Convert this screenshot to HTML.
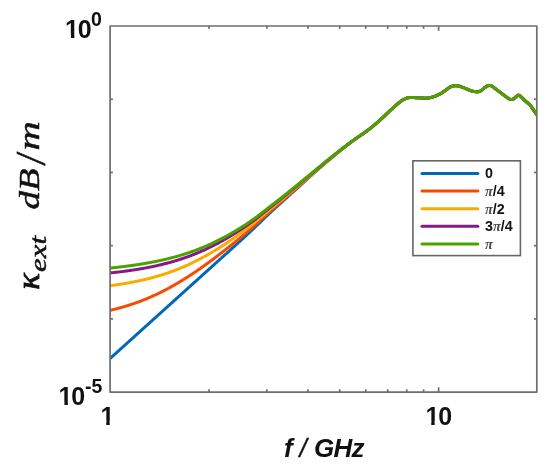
<!DOCTYPE html>
<html><head><meta charset="utf-8"><style>
html,body{margin:0;padding:0;background:#fff;}
svg{display:block;filter:blur(0.45px);}
.tl{font-family:"Liberation Sans",Arial,sans-serif;font-weight:bold;fill:#111;}
.lt{font-family:"Liberation Sans",Arial,sans-serif;font-weight:bold;font-size:14.3px;fill:#111;}
.pi{font-family:"Liberation Serif","DejaVu Serif",serif;font-weight:bold;font-style:italic;fill:#4a4a4a;}
.yl{font-family:"Liberation Serif","DejaVu Serif",serif;font-style:italic;fill:#111;stroke:#111;stroke-width:0.5px;}
.xl{font-family:"Liberation Sans",Arial,sans-serif;font-weight:bold;font-style:italic;fill:#111;}
</style></head><body>
<svg width="550" height="474" viewBox="0 0 550 474">
<rect width="550" height="474" fill="#fff"/>
<defs><clipPath id="ax"><rect x="110.1" y="26.0" width="426.69999999999993" height="366.1"/></clipPath></defs>
<g clip-path="url(#ax)" fill="none" stroke-width="3" stroke-linejoin="round" stroke-linecap="round">
<path d="M108.10 360.31 L108.60 359.85 L109.10 359.40 L109.60 358.95 L110.10 358.50 L110.60 358.05 L111.10 357.60 L111.60 357.15 L112.10 356.69 L112.60 356.24 L113.10 355.79 L113.60 355.34 L114.10 354.89 L114.60 354.44 L115.10 353.99 L115.60 353.54 L116.10 353.08 L116.60 352.63 L117.10 352.18 L117.60 351.73 L118.10 351.28 L118.60 350.83 L119.10 350.38 L119.60 349.92 L120.10 349.47 L120.60 349.02 L121.10 348.57 L121.60 348.12 L122.10 347.67 L122.60 347.22 L123.10 346.76 L123.60 346.31 L124.10 345.86 L124.60 345.41 L125.10 344.96 L125.60 344.51 L126.10 344.06 L126.60 343.61 L127.10 343.15 L127.60 342.70 L128.10 342.25 L128.60 341.80 L129.10 341.35 L129.60 340.90 L130.10 340.45 L130.60 339.99 L131.10 339.54 L131.60 339.09 L132.10 338.64 L132.60 338.19 L133.10 337.74 L133.60 337.29 L134.10 336.83 L134.60 336.38 L135.10 335.93 L135.60 335.48 L136.10 335.03 L136.60 334.58 L137.10 334.13 L137.60 333.68 L138.10 333.22 L138.60 332.77 L139.10 332.32 L139.60 331.87 L140.10 331.42 L140.60 330.97 L141.10 330.52 L141.60 330.06 L142.10 329.61 L142.60 329.16 L143.10 328.71 L143.60 328.26 L144.10 327.81 L144.60 327.36 L145.10 326.91 L145.60 326.45 L146.10 326.00 L146.60 325.55 L147.10 325.10 L147.60 324.65 L148.10 324.20 L148.60 323.75 L149.10 323.29 L149.60 322.84 L150.10 322.39 L150.60 321.94 L151.10 321.49 L151.60 321.04 L152.10 320.59 L152.60 320.13 L153.10 319.68 L153.60 319.23 L154.10 318.78 L154.60 318.33 L155.10 317.88 L155.60 317.43 L156.10 316.98 L156.60 316.52 L157.10 316.07 L157.60 315.62 L158.10 315.17 L158.60 314.72 L159.10 314.27 L159.60 313.82 L160.10 313.36 L160.60 312.91 L161.10 312.46 L161.60 312.01 L162.10 311.56 L162.60 311.11 L163.10 310.66 L163.60 310.20 L164.10 309.75 L164.60 309.30 L165.10 308.85 L165.60 308.40 L166.10 307.95 L166.60 307.50 L167.10 307.05 L167.60 306.59 L168.10 306.14 L168.60 305.69 L169.10 305.24 L169.60 304.79 L170.10 304.34 L170.60 303.89 L171.10 303.43 L171.60 302.98 L172.10 302.53 L172.60 302.08 L173.10 301.63 L173.60 301.18 L174.10 300.73 L174.60 300.28 L175.10 299.82 L175.60 299.37 L176.10 298.92 L176.60 298.47 L177.10 298.02 L177.60 297.57 L178.10 297.12 L178.60 296.66 L179.10 296.21 L179.60 295.76 L180.10 295.31 L180.60 294.86 L181.10 294.41 L181.60 293.96 L182.10 293.50 L182.60 293.05 L183.10 292.60 L183.60 292.15 L184.10 291.70 L184.60 291.25 L185.10 290.80 L185.60 290.35 L186.10 289.89 L186.60 289.44 L187.10 288.99 L187.60 288.54 L188.10 288.09 L188.60 287.64 L189.10 287.19 L189.60 286.73 L190.10 286.28 L190.60 285.83 L191.10 285.38 L191.60 284.93 L192.10 284.48 L192.60 284.03 L193.10 283.57 L193.60 283.12 L194.10 282.67 L194.60 282.22 L195.10 281.77 L195.60 281.32 L196.10 280.87 L196.60 280.42 L197.10 279.96 L197.60 279.51 L198.10 279.06 L198.60 278.61 L199.10 278.16 L199.60 277.71 L200.10 277.26 L200.60 276.80 L201.10 276.35 L201.60 275.90 L202.10 275.45 L202.60 275.00 L203.10 274.55 L203.60 274.10 L204.10 273.65 L204.60 273.19 L205.10 272.74 L205.60 272.29 L206.10 271.84 L206.60 271.39 L207.10 270.94 L207.60 270.49 L208.10 270.03 L208.60 269.58 L209.10 269.13 L209.60 268.68 L210.10 268.23 L210.60 267.78 L211.10 267.33 L211.60 266.87 L212.10 266.42 L212.60 265.97 L213.10 265.52 L213.60 265.07 L214.10 264.62 L214.60 264.17 L215.10 263.72 L215.60 263.26 L216.10 262.81 L216.60 262.36 L217.10 261.91 L217.60 261.46 L218.10 261.01 L218.60 260.56 L219.10 260.10 L219.60 259.65 L220.10 259.20 L220.60 258.75 L221.10 258.30 L221.60 257.85 L222.10 257.40 L222.60 256.94 L223.10 256.49 L223.60 256.04 L224.10 255.59 L224.60 255.14 L225.10 254.69 L225.60 254.24 L226.10 253.79 L226.60 253.33 L227.10 252.88 L227.60 252.43 L228.10 251.98 L228.60 251.53 L229.10 251.08 L229.60 250.63 L230.10 250.17 L230.60 249.72 L231.10 249.27 L231.60 248.82 L232.10 248.37 L232.60 247.91 L233.10 247.46 L233.60 247.01 L234.10 246.55 L234.60 246.10 L235.10 245.65 L235.60 245.19 L236.10 244.74 L236.60 244.28 L237.10 243.83 L237.60 243.37 L238.10 242.92 L238.60 242.46 L239.10 242.01 L239.60 241.55 L240.10 241.10 L240.60 240.64 L241.10 240.19 L241.60 239.73 L242.10 239.27 L242.60 238.82 L243.10 238.36 L243.60 237.90 L244.10 237.45 L244.60 236.99 L245.10 236.53 L245.60 236.07 L246.10 235.62 L246.60 235.16 L247.10 234.69 L247.60 234.23 L248.10 233.77 L248.60 233.30 L249.10 232.84 L249.60 232.37 L250.10 231.91 L250.60 231.44 L251.10 230.97 L251.60 230.50 L252.10 230.03 L252.60 229.56 L253.10 229.09 L253.60 228.62 L254.10 228.15 L254.60 227.67 L255.10 227.20 L255.60 226.73 L256.10 226.25 L256.60 225.77 L257.10 225.28 L257.60 224.79 L258.10 224.30 L258.60 223.81 L259.10 223.32 L259.60 222.83 L260.10 222.33 L260.60 221.84 L261.10 221.35 L261.60 220.86 L262.10 220.37 L262.60 219.88 L263.10 219.39 L263.60 218.91 L264.10 218.43 L264.60 217.95 L265.10 217.48 L265.60 217.00 L266.10 216.53 L266.60 216.06 L267.10 215.58 L267.60 215.11 L268.10 214.64 L268.60 214.17 L269.10 213.70 L269.60 213.23 L270.10 212.76 L270.60 212.29 L271.10 211.83 L271.60 211.36 L272.10 210.90 L272.60 210.43 L273.10 209.97 L273.60 209.52 L274.10 209.06 L274.60 208.60 L275.10 208.15 L275.60 207.70 L276.10 207.25 L276.60 206.80 L277.10 206.35 L277.60 205.90 L278.10 205.44 L278.60 204.99 L279.10 204.54 L279.60 204.09 L280.10 203.64 L280.60 203.19 L281.10 202.74 L281.60 202.28 L282.10 201.83 L282.60 201.38 L283.10 200.93 L283.60 200.48 L284.10 200.03 L284.60 199.58 L285.10 199.13 L285.60 198.67 L286.10 198.22 L286.60 197.77 L287.10 197.32 L287.60 196.87 L288.10 196.42 L288.60 195.97 L289.10 195.51 L289.60 195.06 L290.10 194.61 L290.60 194.16 L291.10 193.71 L291.60 193.26 L292.10 192.81 L292.60 192.36 L293.10 191.91 L293.60 191.46 L294.10 191.01 L294.60 190.56 L295.10 190.11 L295.60 189.66 L296.10 189.22 L296.60 188.77 L297.10 188.32 L297.60 187.87 L298.10 187.42 L298.60 186.98 L299.10 186.53 L299.60 186.08 L300.10 185.63 L300.60 185.17 L301.10 184.70 L301.60 184.23 L302.10 183.77 L302.60 183.31 L303.10 182.84 L303.60 182.38 L304.10 181.92 L304.60 181.46 L305.10 180.99 L305.60 180.53 L306.10 180.07 L306.60 179.62 L307.10 179.16 L307.60 178.70 L308.10 178.25 L308.60 177.79 L309.10 177.34 L309.60 176.89 L310.10 176.43 L310.60 175.98 L311.10 175.53 L311.60 175.08 L312.10 174.64 L312.60 174.19 L313.10 173.74 L313.60 173.30 L314.10 172.85 L314.60 172.41 L315.10 171.96 L315.60 171.52 L316.10 171.07 L316.60 170.63 L317.10 170.19 L317.60 169.75 L318.10 169.31 L318.60 168.87 L319.10 168.43 L319.60 167.99 L320.10 167.55 L320.60 167.11 L321.10 166.67 L321.60 166.24 L322.10 165.80 L322.60 165.37 L323.10 164.94 L323.60 164.51 L324.10 164.08 L324.60 163.65 L325.10 163.22 L325.60 162.79 L326.10 162.36 L326.60 161.94 L327.10 161.51 L327.60 161.09 L328.10 160.67 L328.60 160.24 L329.10 159.82 L329.60 159.40 L330.10 158.98 L330.60 158.56 L331.10 158.14 L331.60 157.72 L332.10 157.30 L332.60 156.89 L333.10 156.47 L333.60 156.05 L334.10 155.64 L334.60 155.22 L335.10 154.81 L335.60 154.39 L336.10 153.98 L336.60 153.57 L337.10 153.16 L337.60 152.75 L338.10 152.35 L338.60 151.94 L339.10 151.54 L339.60 151.13 L340.10 150.73 L340.60 150.33 L341.10 149.93 L341.60 149.53 L342.10 149.14 L342.60 148.74 L343.10 148.35 L343.60 147.95 L344.10 147.56 L344.60 147.17 L345.10 146.77 L345.60 146.38 L346.10 146.00 L346.60 145.61 L347.10 145.22 L347.60 144.84 L348.10 144.46 L348.60 144.08 L349.10 143.70 L349.60 143.33 L350.10 142.95 L350.60 142.58 L351.10 142.20 L351.60 141.83 L352.10 141.46 L352.60 141.09 L353.10 140.72 L353.60 140.36 L354.10 139.99 L354.60 139.63 L355.10 139.26 L355.60 138.90 L356.10 138.54 L356.60 138.19 L357.10 137.84 L357.60 137.50 L358.10 137.15 L358.60 136.81 L359.10 136.46 L359.60 136.12 L360.10 135.77 L360.60 135.43 L361.10 135.08 L361.60 134.73 L362.10 134.38 L362.60 134.02 L363.10 133.67 L363.60 133.32 L364.10 132.97 L364.60 132.62 L365.10 132.27 L365.60 131.92 L366.10 131.56 L366.60 131.20 L367.10 130.84 L367.60 130.47 L368.10 130.10 L368.60 129.72 L369.10 129.33 L369.60 128.93 L370.10 128.53 L370.60 128.12 L371.10 127.72 L371.60 127.31 L372.10 126.90 L372.60 126.49 L373.10 126.08 L373.60 125.66 L374.10 125.25 L374.60 124.83 L375.10 124.42 L375.60 124.00 L376.10 123.57 L376.60 123.15 L377.10 122.72 L377.60 122.29 L378.10 121.86 L378.60 121.43 L379.10 120.99 L379.60 120.55 L380.10 120.10 L380.60 119.65 L381.10 119.19 L381.60 118.73 L382.10 118.26 L382.60 117.79 L383.10 117.32 L383.60 116.84 L384.10 116.37 L384.60 115.89 L385.10 115.40 L385.60 114.92 L386.10 114.44 L386.60 113.96 L387.10 113.48 L387.60 113.00 L388.10 112.53 L388.60 112.05 L389.10 111.59 L389.60 111.12 L390.10 110.66 L390.60 110.20 L391.10 109.74 L391.60 109.29 L392.10 108.83 L392.60 108.37 L393.10 107.91 L393.60 107.46 L394.10 107.00 L394.60 106.55 L395.10 106.09 L395.60 105.64 L396.10 105.19 L396.60 104.74 L397.10 104.29 L397.60 103.86 L398.10 103.43 L398.60 103.03 L399.10 102.63 L399.60 102.25 L400.10 101.87 L400.60 101.50 L401.10 101.13 L401.60 100.77 L402.10 100.43 L402.60 100.11 L403.10 99.81 L403.60 99.53 L404.10 99.27 L404.60 99.03 L405.10 98.79 L405.60 98.58 L406.10 98.39 L406.60 98.21 L407.10 98.06 L407.60 97.94 L408.10 97.84 L408.60 97.75 L409.10 97.68 L409.60 97.63 L410.10 97.59 L410.60 97.56 L411.10 97.55 L411.60 97.54 L412.10 97.54 L412.60 97.55 L413.10 97.57 L413.60 97.59 L414.10 97.61 L414.60 97.64 L415.10 97.67 L415.60 97.70 L416.10 97.73 L416.60 97.77 L417.10 97.81 L417.60 97.84 L418.10 97.88 L418.60 97.91 L419.10 97.94 L419.60 97.98 L420.10 98.01 L420.60 98.04 L421.10 98.06 L421.60 98.09 L422.10 98.11 L422.60 98.13 L423.10 98.15 L423.60 98.16 L424.10 98.17 L424.60 98.18 L425.10 98.18 L425.60 98.17 L426.10 98.16 L426.60 98.14 L427.10 98.11 L427.60 98.07 L428.10 98.01 L428.60 97.95 L429.10 97.87 L429.60 97.79 L430.10 97.69 L430.60 97.57 L431.10 97.45 L431.60 97.32 L432.10 97.18 L432.60 97.04 L433.10 96.88 L433.60 96.72 L434.10 96.55 L434.60 96.37 L435.10 96.19 L435.60 96.00 L436.10 95.81 L436.60 95.60 L437.10 95.39 L437.60 95.17 L438.10 94.94 L438.60 94.70 L439.10 94.45 L439.60 94.19 L440.10 93.92 L440.60 93.64 L441.10 93.35 L441.60 93.04 L442.10 92.73 L442.60 92.41 L443.10 92.08 L443.60 91.74 L444.10 91.39 L444.60 91.03 L445.10 90.67 L445.60 90.29 L446.10 89.92 L446.60 89.54 L447.10 89.17 L447.60 88.80 L448.10 88.44 L448.60 88.10 L449.10 87.77 L449.60 87.46 L450.10 87.18 L450.60 86.93 L451.10 86.70 L451.60 86.49 L452.10 86.31 L452.60 86.16 L453.10 86.03 L453.60 85.92 L454.10 85.84 L454.60 85.78 L455.10 85.75 L455.60 85.73 L456.10 85.74 L456.60 85.77 L457.10 85.81 L457.60 85.88 L458.10 85.96 L458.60 86.07 L459.10 86.18 L459.60 86.31 L460.10 86.45 L460.60 86.61 L461.10 86.77 L461.60 86.94 L462.10 87.13 L462.60 87.32 L463.10 87.51 L463.60 87.71 L464.10 87.92 L464.60 88.13 L465.10 88.35 L465.60 88.57 L466.10 88.78 L466.60 89.00 L467.10 89.22 L467.60 89.44 L468.10 89.65 L468.60 89.86 L469.10 90.06 L469.60 90.25 L470.10 90.44 L470.60 90.61 L471.10 90.77 L471.60 90.92 L472.10 91.06 L472.60 91.19 L473.10 91.30 L473.60 91.41 L474.10 91.50 L474.60 91.58 L475.10 91.65 L475.60 91.71 L476.10 91.75 L476.60 91.79 L477.10 91.81 L477.60 91.80 L478.10 91.77 L478.60 91.69 L479.10 91.58 L479.60 91.41 L480.10 91.20 L480.60 90.92 L481.10 90.59 L481.60 90.23 L482.10 89.84 L482.60 89.42 L483.10 89.00 L483.60 88.57 L484.10 88.16 L484.60 87.76 L485.10 87.38 L485.60 87.03 L486.10 86.70 L486.60 86.40 L487.10 86.13 L487.60 85.90 L488.10 85.70 L488.60 85.55 L489.10 85.45 L489.60 85.41 L490.10 85.45 L490.60 85.58 L491.10 85.77 L491.60 86.03 L492.10 86.33 L492.60 86.67 L493.10 87.04 L493.60 87.43 L494.10 87.82 L494.60 88.20 L495.10 88.58 L495.60 88.96 L496.10 89.33 L496.60 89.71 L497.10 90.08 L497.60 90.45 L498.10 90.82 L498.60 91.19 L499.10 91.57 L499.60 91.94 L500.10 92.32 L500.60 92.69 L501.10 93.07 L501.60 93.45 L502.10 93.82 L502.60 94.20 L503.10 94.58 L503.60 94.95 L504.10 95.33 L504.60 95.70 L505.10 96.08 L505.60 96.45 L506.10 96.83 L506.60 97.20 L507.10 97.57 L507.60 97.92 L508.10 98.26 L508.60 98.57 L509.10 98.85 L509.60 99.09 L510.10 99.30 L510.60 99.45 L511.10 99.55 L511.60 99.58 L512.10 99.55 L512.60 99.42 L513.10 99.21 L513.60 98.91 L514.10 98.53 L514.60 98.09 L515.10 97.62 L515.60 97.14 L516.10 96.66 L516.60 96.21 L517.10 95.81 L517.60 95.50 L518.10 95.31 L518.60 95.26 L519.10 95.37 L519.60 95.61 L520.10 95.96 L520.60 96.38 L521.10 96.85 L521.60 97.34 L522.10 97.85 L522.60 98.36 L523.10 98.87 L523.60 99.37 L524.10 99.86 L524.60 100.33 L525.10 100.79 L525.60 101.23 L526.10 101.66 L526.60 102.09 L527.10 102.51 L527.60 102.93 L528.10 103.35 L528.60 103.78 L529.10 104.23 L529.60 104.70 L530.10 105.22 L530.60 105.78 L531.10 106.41 L531.60 107.10 L532.10 107.84 L532.60 108.62 L533.10 109.40 L533.60 110.18 L534.10 110.94 L534.60 111.66 L535.10 112.35 L535.60 113.04 L536.10 113.73 L536.60 114.45 L537.10 115.18 L537.60 115.95 L538.10 116.73 L538.60 117.53 L539.10 118.34 L539.60 119.16" stroke="#0068bb"/>
<path d="M108.10 310.81 L108.60 310.70 L109.10 310.58 L109.60 310.47 L110.10 310.35 L110.60 310.23 L111.10 310.11 L111.60 310.00 L112.10 309.88 L112.60 309.75 L113.10 309.63 L113.60 309.51 L114.10 309.38 L114.60 309.26 L115.10 309.13 L115.60 309.00 L116.10 308.88 L116.60 308.75 L117.10 308.62 L117.60 308.48 L118.10 308.35 L118.60 308.22 L119.10 308.08 L119.60 307.95 L120.10 307.81 L120.60 307.67 L121.10 307.53 L121.60 307.39 L122.10 307.25 L122.60 307.10 L123.10 306.96 L123.60 306.81 L124.10 306.67 L124.60 306.52 L125.10 306.37 L125.60 306.22 L126.10 306.07 L126.60 305.91 L127.10 305.76 L127.60 305.61 L128.10 305.45 L128.60 305.29 L129.10 305.13 L129.60 304.97 L130.10 304.81 L130.60 304.65 L131.10 304.48 L131.60 304.32 L132.10 304.15 L132.60 303.98 L133.10 303.81 L133.60 303.64 L134.10 303.47 L134.60 303.30 L135.10 303.12 L135.60 302.95 L136.10 302.77 L136.60 302.59 L137.10 302.41 L137.60 302.23 L138.10 302.05 L138.60 301.86 L139.10 301.68 L139.60 301.49 L140.10 301.30 L140.60 301.11 L141.10 300.92 L141.60 300.73 L142.10 300.54 L142.60 300.34 L143.10 300.15 L143.60 299.95 L144.10 299.75 L144.60 299.55 L145.10 299.35 L145.60 299.14 L146.10 298.94 L146.60 298.73 L147.10 298.53 L147.60 298.32 L148.10 298.11 L148.60 297.89 L149.10 297.68 L149.60 297.47 L150.10 297.25 L150.60 297.03 L151.10 296.81 L151.60 296.59 L152.10 296.37 L152.60 296.15 L153.10 295.92 L153.60 295.70 L154.10 295.47 L154.60 295.24 L155.10 295.01 L155.60 294.78 L156.10 294.54 L156.60 294.31 L157.10 294.07 L157.60 293.83 L158.10 293.60 L158.60 293.35 L159.10 293.11 L159.60 292.87 L160.10 292.62 L160.60 292.38 L161.10 292.13 L161.60 291.88 L162.10 291.63 L162.60 291.38 L163.10 291.12 L163.60 290.87 L164.10 290.61 L164.60 290.35 L165.10 290.09 L165.60 289.83 L166.10 289.57 L166.60 289.31 L167.10 289.04 L167.60 288.78 L168.10 288.51 L168.60 288.24 L169.10 287.97 L169.60 287.69 L170.10 287.42 L170.60 287.15 L171.10 286.87 L171.60 286.59 L172.10 286.31 L172.60 286.03 L173.10 285.75 L173.60 285.47 L174.10 285.18 L174.60 284.90 L175.10 284.61 L175.60 284.32 L176.10 284.03 L176.60 283.74 L177.10 283.44 L177.60 283.15 L178.10 282.85 L178.60 282.56 L179.10 282.26 L179.60 281.96 L180.10 281.66 L180.60 281.36 L181.10 281.05 L181.60 280.75 L182.10 280.44 L182.60 280.13 L183.10 279.83 L183.60 279.52 L184.10 279.20 L184.60 278.89 L185.10 278.58 L185.60 278.26 L186.10 277.95 L186.60 277.63 L187.10 277.31 L187.60 276.99 L188.10 276.67 L188.60 276.35 L189.10 276.02 L189.60 275.70 L190.10 275.37 L190.60 275.04 L191.10 274.72 L191.60 274.39 L192.10 274.06 L192.60 273.72 L193.10 273.39 L193.60 273.06 L194.10 272.72 L194.60 272.38 L195.10 272.05 L195.60 271.71 L196.10 271.37 L196.60 271.03 L197.10 270.68 L197.60 270.34 L198.10 270.00 L198.60 269.65 L199.10 269.30 L199.60 268.96 L200.10 268.61 L200.60 268.26 L201.10 267.91 L201.60 267.56 L202.10 267.20 L202.60 266.85 L203.10 266.49 L203.60 266.14 L204.10 265.78 L204.60 265.42 L205.10 265.06 L205.60 264.70 L206.10 264.34 L206.60 263.98 L207.10 263.62 L207.60 263.26 L208.10 262.89 L208.60 262.53 L209.10 262.16 L209.60 261.79 L210.10 261.42 L210.60 261.05 L211.10 260.68 L211.60 260.31 L212.10 259.94 L212.60 259.57 L213.10 259.20 L213.60 258.82 L214.10 258.45 L214.60 258.07 L215.10 257.69 L215.60 257.32 L216.10 256.94 L216.60 256.56 L217.10 256.18 L217.60 255.80 L218.10 255.41 L218.60 255.03 L219.10 254.65 L219.60 254.26 L220.10 253.88 L220.60 253.49 L221.10 253.11 L221.60 252.72 L222.10 252.33 L222.60 251.94 L223.10 251.55 L223.60 251.16 L224.10 250.77 L224.60 250.38 L225.10 249.99 L225.60 249.60 L226.10 249.20 L226.60 248.81 L227.10 248.42 L227.60 248.02 L228.10 247.62 L228.60 247.23 L229.10 246.83 L229.60 246.43 L230.10 246.03 L230.60 245.63 L231.10 245.23 L231.60 244.83 L232.10 244.43 L232.60 244.03 L233.10 243.62 L233.60 243.22 L234.10 242.81 L234.60 242.41 L235.10 242.00 L235.60 241.59 L236.10 241.19 L236.60 240.78 L237.10 240.37 L237.60 239.96 L238.10 239.54 L238.60 239.13 L239.10 238.72 L239.60 238.31 L240.10 237.89 L240.60 237.48 L241.10 237.06 L241.60 236.65 L242.10 236.23 L242.60 235.81 L243.10 235.40 L243.60 234.98 L244.10 234.56 L244.60 234.14 L245.10 233.72 L245.60 233.30 L246.10 232.88 L246.60 232.45 L247.10 232.03 L247.60 231.60 L248.10 231.17 L248.60 230.74 L249.10 230.31 L249.60 229.88 L250.10 229.44 L250.60 229.01 L251.10 228.57 L251.60 228.13 L252.10 227.70 L252.60 227.26 L253.10 226.82 L253.60 226.38 L254.10 225.94 L254.60 225.50 L255.10 225.05 L255.60 224.61 L256.10 224.16 L256.60 223.70 L257.10 223.25 L257.60 222.79 L258.10 222.33 L258.60 221.86 L259.10 221.40 L259.60 220.93 L260.10 220.47 L260.60 220.00 L261.10 219.54 L261.60 219.07 L262.10 218.60 L262.60 218.14 L263.10 217.68 L263.60 217.22 L264.10 216.76 L264.60 216.31 L265.10 215.86 L265.60 215.41 L266.10 214.95 L266.60 214.50 L267.10 214.05 L267.60 213.60 L268.10 213.15 L268.60 212.70 L269.10 212.25 L269.60 211.80 L270.10 211.35 L270.60 210.90 L271.10 210.45 L271.60 210.01 L272.10 209.56 L272.60 209.12 L273.10 208.67 L273.60 208.23 L274.10 207.79 L274.60 207.36 L275.10 206.92 L275.60 206.48 L276.10 206.05 L276.60 205.61 L277.10 205.18 L277.60 204.74 L278.10 204.31 L278.60 203.87 L279.10 203.43 L279.60 203.00 L280.10 202.56 L280.60 202.12 L281.10 201.68 L281.60 201.25 L282.10 200.81 L282.60 200.37 L283.10 199.93 L283.60 199.50 L284.10 199.06 L284.60 198.62 L285.10 198.18 L285.60 197.74 L286.10 197.30 L286.60 196.86 L287.10 196.42 L287.60 195.98 L288.10 195.54 L288.60 195.10 L289.10 194.66 L289.60 194.22 L290.10 193.78 L290.60 193.34 L291.10 192.90 L291.60 192.46 L292.10 192.02 L292.60 191.58 L293.10 191.15 L293.60 190.71 L294.10 190.27 L294.60 189.83 L295.10 189.39 L295.60 188.95 L296.10 188.51 L296.60 188.07 L297.10 187.63 L297.60 187.19 L298.10 186.76 L298.60 186.32 L299.10 185.88 L299.60 185.44 L300.10 185.00 L300.60 184.54 L301.10 184.09 L301.60 183.64 L302.10 183.18 L302.60 182.73 L303.10 182.28 L303.60 181.83 L304.10 181.38 L304.60 180.93 L305.10 180.48 L305.60 180.03 L306.10 179.58 L306.60 179.13 L307.10 178.68 L307.60 178.23 L308.10 177.79 L308.60 177.34 L309.10 176.90 L309.60 176.45 L310.10 176.01 L310.60 175.57 L311.10 175.13 L311.60 174.69 L312.10 174.25 L312.60 173.81 L313.10 173.37 L313.60 172.93 L314.10 172.49 L314.60 172.06 L315.10 171.62 L315.60 171.18 L316.10 170.75 L316.60 170.31 L317.10 169.88 L317.60 169.44 L318.10 169.01 L318.60 168.57 L319.10 168.14 L319.60 167.71 L320.10 167.27 L320.60 166.84 L321.10 166.41 L321.60 165.98 L322.10 165.55 L322.60 165.12 L323.10 164.70 L323.60 164.27 L324.10 163.84 L324.60 163.42 L325.10 163.00 L325.60 162.57 L326.10 162.15 L326.60 161.73 L327.10 161.31 L327.60 160.89 L328.10 160.47 L328.60 160.05 L329.10 159.64 L329.60 159.22 L330.10 158.80 L330.60 158.39 L331.10 157.97 L331.60 157.56 L332.10 157.14 L332.60 156.73 L333.10 156.32 L333.60 155.91 L334.10 155.49 L334.60 155.08 L335.10 154.67 L335.60 154.26 L336.10 153.85 L336.60 153.44 L337.10 153.04 L337.60 152.63 L338.10 152.23 L338.60 151.83 L339.10 151.43 L339.60 151.03 L340.10 150.63 L340.60 150.23 L341.10 149.83 L341.60 149.44 L342.10 149.04 L342.60 148.65 L343.10 148.25 L343.60 147.86 L344.10 147.47 L344.60 147.08 L345.10 146.69 L345.60 146.30 L346.10 145.92 L346.60 145.53 L347.10 145.15 L347.60 144.77 L348.10 144.39 L348.60 144.01 L349.10 143.64 L349.60 143.26 L350.10 142.89 L350.60 142.52 L351.10 142.15 L351.60 141.78 L352.10 141.41 L352.60 141.04 L353.10 140.67 L353.60 140.31 L354.10 139.94 L354.60 139.58 L355.10 139.22 L355.60 138.86 L356.10 138.50 L356.60 138.15 L357.10 137.81 L357.60 137.46 L358.10 137.12 L358.60 136.77 L359.10 136.43 L359.60 136.08 L360.10 135.74 L360.60 135.40 L361.10 135.05 L361.60 134.70 L362.10 134.35 L362.60 133.99 L363.10 133.64 L363.60 133.29 L364.10 132.94 L364.60 132.59 L365.10 132.24 L365.60 131.89 L366.10 131.53 L366.60 131.18 L367.10 130.81 L367.60 130.45 L368.10 130.07 L368.60 129.69 L369.10 129.31 L369.60 128.91 L370.10 128.51 L370.60 128.10 L371.10 127.69 L371.60 127.29 L372.10 126.88 L372.60 126.47 L373.10 126.06 L373.60 125.64 L374.10 125.23 L374.60 124.81 L375.10 124.40 L375.60 123.98 L376.10 123.55 L376.60 123.13 L377.10 122.70 L377.60 122.27 L378.10 121.84 L378.60 121.41 L379.10 120.97 L379.60 120.53 L380.10 120.08 L380.60 119.63 L381.10 119.17 L381.60 118.71 L382.10 118.25 L382.60 117.78 L383.10 117.30 L383.60 116.83 L384.10 116.35 L384.60 115.87 L385.10 115.39 L385.60 114.91 L386.10 114.43 L386.60 113.94 L387.10 113.46 L387.60 112.99 L388.10 112.51 L388.60 112.04 L389.10 111.57 L389.60 111.11 L390.10 110.65 L390.60 110.19 L391.10 109.73 L391.60 109.27 L392.10 108.82 L392.60 108.36 L393.10 107.90 L393.60 107.45 L394.10 106.99 L394.60 106.54 L395.10 106.08 L395.60 105.63 L396.10 105.18 L396.60 104.73 L397.10 104.28 L397.60 103.84 L398.10 103.42 L398.60 103.02 L399.10 102.62 L399.60 102.24 L400.10 101.86 L400.60 101.49 L401.10 101.12 L401.60 100.76 L402.10 100.42 L402.60 100.10 L403.10 99.80 L403.60 99.52 L404.10 99.26 L404.60 99.02 L405.10 98.79 L405.60 98.57 L406.10 98.38 L406.60 98.20 L407.10 98.05 L407.60 97.93 L408.10 97.83 L408.60 97.74 L409.10 97.67 L409.60 97.62 L410.10 97.58 L410.60 97.55 L411.10 97.54 L411.60 97.53 L412.10 97.54 L412.60 97.54 L413.10 97.56 L413.60 97.58 L414.10 97.60 L414.60 97.63 L415.10 97.66 L415.60 97.69 L416.10 97.72 L416.60 97.76 L417.10 97.80 L417.60 97.83 L418.10 97.87 L418.60 97.90 L419.10 97.93 L419.60 97.97 L420.10 98.00 L420.60 98.03 L421.10 98.05 L421.60 98.08 L422.10 98.10 L422.60 98.12 L423.10 98.14 L423.60 98.15 L424.10 98.16 L424.60 98.17 L425.10 98.17 L425.60 98.16 L426.10 98.15 L426.60 98.13 L427.10 98.10 L427.60 98.06 L428.10 98.00 L428.60 97.94 L429.10 97.86 L429.60 97.78 L430.10 97.68 L430.60 97.57 L431.10 97.44 L431.60 97.31 L432.10 97.17 L432.60 97.03 L433.10 96.87 L433.60 96.71 L434.10 96.54 L434.60 96.36 L435.10 96.18 L435.60 95.99 L436.10 95.80 L436.60 95.59 L437.10 95.38 L437.60 95.16 L438.10 94.93 L438.60 94.69 L439.10 94.44 L439.60 94.18 L440.10 93.91 L440.60 93.63 L441.10 93.34 L441.60 93.04 L442.10 92.72 L442.60 92.40 L443.10 92.07 L443.60 91.73 L444.10 91.38 L444.60 91.02 L445.10 90.66 L445.60 90.29 L446.10 89.91 L446.60 89.53 L447.10 89.16 L447.60 88.79 L448.10 88.43 L448.60 88.09 L449.10 87.76 L449.60 87.46 L450.10 87.18 L450.60 86.92 L451.10 86.69 L451.60 86.49 L452.10 86.31 L452.60 86.15 L453.10 86.02 L453.60 85.92 L454.10 85.84 L454.60 85.78 L455.10 85.74 L455.60 85.72 L456.10 85.73 L456.60 85.76 L457.10 85.81 L457.60 85.87 L458.10 85.96 L458.60 86.06 L459.10 86.17 L459.60 86.30 L460.10 86.45 L460.60 86.60 L461.10 86.76 L461.60 86.94 L462.10 87.12 L462.60 87.31 L463.10 87.51 L463.60 87.71 L464.10 87.91 L464.60 88.13 L465.10 88.34 L465.60 88.56 L466.10 88.78 L466.60 88.99 L467.10 89.21 L467.60 89.43 L468.10 89.64 L468.60 89.85 L469.10 90.05 L469.60 90.24 L470.10 90.43 L470.60 90.60 L471.10 90.77 L471.60 90.92 L472.10 91.05 L472.60 91.18 L473.10 91.30 L473.60 91.40 L474.10 91.49 L474.60 91.57 L475.10 91.64 L475.60 91.70 L476.10 91.74 L476.60 91.78 L477.10 91.80 L477.60 91.79 L478.10 91.76 L478.60 91.69 L479.10 91.57 L479.60 91.41 L480.10 91.19 L480.60 90.91 L481.10 90.59 L481.60 90.22 L482.10 89.83 L482.60 89.41 L483.10 88.99 L483.60 88.57 L484.10 88.15 L484.60 87.75 L485.10 87.38 L485.60 87.02 L486.10 86.69 L486.60 86.39 L487.10 86.12 L487.60 85.89 L488.10 85.69 L488.60 85.54 L489.10 85.44 L489.60 85.40 L490.10 85.45 L490.60 85.57 L491.10 85.76 L491.60 86.02 L492.10 86.32 L492.60 86.67 L493.10 87.04 L493.60 87.42 L494.10 87.81 L494.60 88.19 L495.10 88.57 L495.60 88.95 L496.10 89.32 L496.60 89.70 L497.10 90.07 L497.60 90.44 L498.10 90.81 L498.60 91.18 L499.10 91.56 L499.60 91.93 L500.10 92.31 L500.60 92.69 L501.10 93.06 L501.60 93.44 L502.10 93.82 L502.60 94.19 L503.10 94.57 L503.60 94.94 L504.10 95.32 L504.60 95.69 L505.10 96.07 L505.60 96.44 L506.10 96.82 L506.60 97.19 L507.10 97.56 L507.60 97.91 L508.10 98.25 L508.60 98.56 L509.10 98.84 L509.60 99.08 L510.10 99.29 L510.60 99.44 L511.10 99.54 L511.60 99.57 L512.10 99.53 L512.60 99.41 L513.10 99.20 L513.60 98.89 L514.10 98.52 L514.60 98.08 L515.10 97.61 L515.60 97.13 L516.10 96.65 L516.60 96.20 L517.10 95.80 L517.60 95.49 L518.10 95.30 L518.60 95.25 L519.10 95.36 L519.60 95.60 L520.10 95.95 L520.60 96.37 L521.10 96.84 L521.60 97.33 L522.10 97.84 L522.60 98.35 L523.10 98.85 L523.60 99.36 L524.10 99.85 L524.60 100.32 L525.10 100.77 L525.60 101.22 L526.10 101.65 L526.60 102.08 L527.10 102.50 L527.60 102.92 L528.10 103.34 L528.60 103.77 L529.10 104.21 L529.60 104.69 L530.10 105.20 L530.60 105.77 L531.10 106.39 L531.60 107.09 L532.10 107.83 L532.60 108.60 L533.10 109.39 L533.60 110.17 L534.10 110.92 L534.60 111.64 L535.10 112.34 L535.60 113.02 L536.10 113.72 L536.60 114.43 L537.10 115.16 L537.60 115.93 L538.10 116.71 L538.60 117.51 L539.10 118.32 L539.60 119.14" stroke="#f84a00"/>
<path d="M108.10 285.97 L108.60 285.91 L109.10 285.84 L109.60 285.78 L110.10 285.71 L110.60 285.65 L111.10 285.58 L111.60 285.51 L112.10 285.45 L112.60 285.38 L113.10 285.31 L113.60 285.24 L114.10 285.17 L114.60 285.10 L115.10 285.03 L115.60 284.96 L116.10 284.89 L116.60 284.81 L117.10 284.74 L117.60 284.66 L118.10 284.59 L118.60 284.51 L119.10 284.44 L119.60 284.36 L120.10 284.29 L120.60 284.21 L121.10 284.13 L121.60 284.05 L122.10 283.97 L122.60 283.89 L123.10 283.81 L123.60 283.73 L124.10 283.64 L124.60 283.56 L125.10 283.48 L125.60 283.39 L126.10 283.31 L126.60 283.22 L127.10 283.13 L127.60 283.05 L128.10 282.96 L128.60 282.87 L129.10 282.78 L129.60 282.69 L130.10 282.60 L130.60 282.50 L131.10 282.41 L131.60 282.32 L132.10 282.22 L132.60 282.13 L133.10 282.03 L133.60 281.93 L134.10 281.84 L134.60 281.74 L135.10 281.64 L135.60 281.54 L136.10 281.43 L136.60 281.33 L137.10 281.23 L137.60 281.13 L138.10 281.02 L138.60 280.91 L139.10 280.81 L139.60 280.70 L140.10 280.59 L140.60 280.48 L141.10 280.37 L141.60 280.26 L142.10 280.15 L142.60 280.03 L143.10 279.92 L143.60 279.80 L144.10 279.69 L144.60 279.57 L145.10 279.45 L145.60 279.33 L146.10 279.21 L146.60 279.09 L147.10 278.97 L147.60 278.85 L148.10 278.72 L148.60 278.60 L149.10 278.47 L149.60 278.34 L150.10 278.21 L150.60 278.08 L151.10 277.95 L151.60 277.82 L152.10 277.69 L152.60 277.55 L153.10 277.42 L153.60 277.28 L154.10 277.14 L154.60 277.01 L155.10 276.87 L155.60 276.72 L156.10 276.58 L156.60 276.44 L157.10 276.29 L157.60 276.15 L158.10 276.00 L158.60 275.85 L159.10 275.70 L159.60 275.55 L160.10 275.40 L160.60 275.25 L161.10 275.10 L161.60 274.94 L162.10 274.78 L162.60 274.63 L163.10 274.47 L163.60 274.31 L164.10 274.14 L164.60 273.98 L165.10 273.82 L165.60 273.65 L166.10 273.48 L166.60 273.32 L167.10 273.15 L167.60 272.98 L168.10 272.80 L168.60 272.63 L169.10 272.46 L169.60 272.28 L170.10 272.10 L170.60 271.92 L171.10 271.74 L171.60 271.56 L172.10 271.38 L172.60 271.20 L173.10 271.01 L173.60 270.82 L174.10 270.64 L174.60 270.45 L175.10 270.26 L175.60 270.06 L176.10 269.87 L176.60 269.67 L177.10 269.48 L177.60 269.28 L178.10 269.08 L178.60 268.88 L179.10 268.68 L179.60 268.47 L180.10 268.27 L180.60 268.06 L181.10 267.86 L181.60 267.65 L182.10 267.44 L182.60 267.22 L183.10 267.01 L183.60 266.80 L184.10 266.58 L184.60 266.36 L185.10 266.14 L185.60 265.92 L186.10 265.70 L186.60 265.48 L187.10 265.25 L187.60 265.03 L188.10 264.80 L188.60 264.57 L189.10 264.34 L189.60 264.11 L190.10 263.87 L190.60 263.64 L191.10 263.40 L191.60 263.16 L192.10 262.92 L192.60 262.68 L193.10 262.44 L193.60 262.20 L194.10 261.95 L194.60 261.70 L195.10 261.46 L195.60 261.21 L196.10 260.96 L196.60 260.70 L197.10 260.45 L197.60 260.19 L198.10 259.94 L198.60 259.68 L199.10 259.42 L199.60 259.16 L200.10 258.90 L200.60 258.63 L201.10 258.37 L201.60 258.10 L202.10 257.83 L202.60 257.56 L203.10 257.29 L203.60 257.02 L204.10 256.75 L204.60 256.47 L205.10 256.19 L205.60 255.92 L206.10 255.64 L206.60 255.36 L207.10 255.07 L207.60 254.79 L208.10 254.50 L208.60 254.22 L209.10 253.93 L209.60 253.64 L210.10 253.35 L210.60 253.06 L211.10 252.77 L211.60 252.47 L212.10 252.18 L212.60 251.88 L213.10 251.58 L213.60 251.28 L214.10 250.98 L214.60 250.68 L215.10 250.37 L215.60 250.07 L216.10 249.76 L216.60 249.46 L217.10 249.15 L217.60 248.84 L218.10 248.52 L218.60 248.21 L219.10 247.90 L219.60 247.58 L220.10 247.27 L220.60 246.95 L221.10 246.63 L221.60 246.31 L222.10 245.99 L222.60 245.67 L223.10 245.34 L223.60 245.02 L224.10 244.69 L224.60 244.36 L225.10 244.03 L225.60 243.70 L226.10 243.37 L226.60 243.04 L227.10 242.71 L227.60 242.37 L228.10 242.04 L228.60 241.70 L229.10 241.36 L229.60 241.02 L230.10 240.68 L230.60 240.34 L231.10 240.00 L231.60 239.66 L232.10 239.31 L232.60 238.96 L233.10 238.62 L233.60 238.27 L234.10 237.92 L234.60 237.57 L235.10 237.21 L235.60 236.86 L236.10 236.50 L236.60 236.15 L237.10 235.79 L237.60 235.43 L238.10 235.07 L238.60 234.71 L239.10 234.35 L239.60 233.99 L240.10 233.62 L240.60 233.26 L241.10 232.89 L241.60 232.52 L242.10 232.15 L242.60 231.78 L243.10 231.41 L243.60 231.04 L244.10 230.67 L244.60 230.29 L245.10 229.92 L245.60 229.54 L246.10 229.16 L246.60 228.78 L247.10 228.40 L247.60 228.02 L248.10 227.63 L248.60 227.24 L249.10 226.85 L249.60 226.46 L250.10 226.07 L250.60 225.68 L251.10 225.28 L251.60 224.89 L252.10 224.49 L252.60 224.09 L253.10 223.69 L253.60 223.29 L254.10 222.89 L254.60 222.48 L255.10 222.08 L255.60 221.67 L256.10 221.26 L256.60 220.84 L257.10 220.42 L257.60 220.00 L258.10 219.58 L258.60 219.15 L259.10 218.72 L259.60 218.29 L260.10 217.86 L260.60 217.43 L261.10 217.00 L261.60 216.56 L262.10 216.13 L262.60 215.70 L263.10 215.27 L263.60 214.84 L264.10 214.42 L264.60 213.99 L265.10 213.57 L265.60 213.15 L266.10 212.73 L266.60 212.31 L267.10 211.88 L267.60 211.46 L268.10 211.04 L268.60 210.61 L269.10 210.19 L269.60 209.77 L270.10 209.34 L270.60 208.92 L271.10 208.50 L271.60 208.08 L272.10 207.66 L272.60 207.24 L273.10 206.82 L273.60 206.40 L274.10 205.98 L274.60 205.57 L275.10 205.16 L275.60 204.74 L276.10 204.33 L276.60 203.92 L277.10 203.50 L277.60 203.09 L278.10 202.67 L278.60 202.26 L279.10 201.84 L279.60 201.42 L280.10 201.01 L280.60 200.59 L281.10 200.17 L281.60 199.75 L282.10 199.33 L282.60 198.91 L283.10 198.49 L283.60 198.07 L284.10 197.65 L284.60 197.23 L285.10 196.81 L285.60 196.39 L286.10 195.97 L286.60 195.55 L287.10 195.12 L287.60 194.70 L288.10 194.28 L288.60 193.86 L289.10 193.43 L289.60 193.01 L290.10 192.58 L290.60 192.16 L291.10 191.73 L291.60 191.31 L292.10 190.88 L292.60 190.46 L293.10 190.03 L293.60 189.61 L294.10 189.18 L294.60 188.76 L295.10 188.33 L295.60 187.91 L296.10 187.48 L296.60 187.05 L297.10 186.63 L297.60 186.20 L298.10 185.78 L298.60 185.35 L299.10 184.93 L299.60 184.50 L300.10 184.07 L300.60 183.63 L301.10 183.20 L301.60 182.76 L302.10 182.33 L302.60 181.89 L303.10 181.46 L303.60 181.02 L304.10 180.59 L304.60 180.15 L305.10 179.71 L305.60 179.28 L306.10 178.84 L306.60 178.41 L307.10 177.98 L307.60 177.55 L308.10 177.11 L308.60 176.68 L309.10 176.25 L309.60 175.82 L310.10 175.39 L310.60 174.96 L311.10 174.53 L311.60 174.10 L312.10 173.68 L312.60 173.25 L313.10 172.82 L313.60 172.39 L314.10 171.97 L314.60 171.54 L315.10 171.11 L315.60 170.69 L316.10 170.26 L316.60 169.84 L317.10 169.41 L317.60 168.99 L318.10 168.56 L318.60 168.14 L319.10 167.71 L319.60 167.29 L320.10 166.87 L320.60 166.44 L321.10 166.02 L321.60 165.60 L322.10 165.18 L322.60 164.76 L323.10 164.34 L323.60 163.92 L324.10 163.50 L324.60 163.09 L325.10 162.67 L325.60 162.25 L326.10 161.84 L326.60 161.43 L327.10 161.01 L327.60 160.60 L328.10 160.19 L328.60 159.78 L329.10 159.36 L329.60 158.95 L330.10 158.54 L330.60 158.13 L331.10 157.73 L331.60 157.32 L332.10 156.91 L332.60 156.50 L333.10 156.09 L333.60 155.69 L334.10 155.28 L334.60 154.87 L335.10 154.47 L335.60 154.06 L336.10 153.66 L336.60 153.25 L337.10 152.85 L337.60 152.45 L338.10 152.05 L338.60 151.65 L339.10 151.26 L339.60 150.86 L340.10 150.47 L340.60 150.07 L341.10 149.68 L341.60 149.29 L342.10 148.90 L342.60 148.51 L343.10 148.12 L343.60 147.73 L344.10 147.34 L344.60 146.96 L345.10 146.57 L345.60 146.19 L346.10 145.80 L346.60 145.42 L347.10 145.04 L347.60 144.67 L348.10 144.29 L348.60 143.92 L349.10 143.54 L349.60 143.17 L350.10 142.80 L350.60 142.43 L351.10 142.06 L351.60 141.69 L352.10 141.33 L352.60 140.96 L353.10 140.60 L353.60 140.24 L354.10 139.87 L354.60 139.51 L355.10 139.15 L355.60 138.80 L356.10 138.44 L356.60 138.10 L357.10 137.75 L357.60 137.41 L358.10 137.06 L358.60 136.72 L359.10 136.38 L359.60 136.04 L360.10 135.70 L360.60 135.35 L361.10 135.01 L361.60 134.66 L362.10 134.30 L362.60 133.95 L363.10 133.60 L363.60 133.25 L364.10 132.90 L364.60 132.55 L365.10 132.20 L365.60 131.85 L366.10 131.49 L366.60 131.14 L367.10 130.77 L367.60 130.41 L368.10 130.03 L368.60 129.66 L369.10 129.27 L369.60 128.87 L370.10 128.47 L370.60 128.07 L371.10 127.66 L371.60 127.25 L372.10 126.84 L372.60 126.43 L373.10 126.02 L373.60 125.61 L374.10 125.20 L374.60 124.78 L375.10 124.36 L375.60 123.94 L376.10 123.52 L376.60 123.10 L377.10 122.67 L377.60 122.24 L378.10 121.81 L378.60 121.38 L379.10 120.94 L379.60 120.50 L380.10 120.05 L380.60 119.60 L381.10 119.15 L381.60 118.69 L382.10 118.22 L382.60 117.75 L383.10 117.28 L383.60 116.80 L384.10 116.32 L384.60 115.85 L385.10 115.36 L385.60 114.88 L386.10 114.40 L386.60 113.92 L387.10 113.44 L387.60 112.96 L388.10 112.49 L388.60 112.02 L389.10 111.55 L389.60 111.09 L390.10 110.63 L390.60 110.17 L391.10 109.71 L391.60 109.25 L392.10 108.80 L392.60 108.34 L393.10 107.88 L393.60 107.43 L394.10 106.97 L394.60 106.52 L395.10 106.06 L395.60 105.61 L396.10 105.16 L396.60 104.71 L397.10 104.26 L397.60 103.83 L398.10 103.41 L398.60 103.00 L399.10 102.61 L399.60 102.22 L400.10 101.84 L400.60 101.47 L401.10 101.11 L401.60 100.74 L402.10 100.40 L402.60 100.08 L403.10 99.79 L403.60 99.51 L404.10 99.25 L404.60 99.00 L405.10 98.77 L405.60 98.56 L406.10 98.36 L406.60 98.19 L407.10 98.04 L407.60 97.91 L408.10 97.81 L408.60 97.73 L409.10 97.66 L409.60 97.61 L410.10 97.57 L410.60 97.54 L411.10 97.53 L411.60 97.52 L412.10 97.52 L412.60 97.53 L413.10 97.54 L413.60 97.56 L414.10 97.59 L414.60 97.61 L415.10 97.64 L415.60 97.68 L416.10 97.71 L416.60 97.75 L417.10 97.78 L417.60 97.82 L418.10 97.85 L418.60 97.89 L419.10 97.92 L419.60 97.95 L420.10 97.98 L420.60 98.01 L421.10 98.04 L421.60 98.06 L422.10 98.09 L422.60 98.11 L423.10 98.12 L423.60 98.14 L424.10 98.15 L424.60 98.15 L425.10 98.15 L425.60 98.15 L426.10 98.13 L426.60 98.11 L427.10 98.08 L427.60 98.04 L428.10 97.99 L428.60 97.93 L429.10 97.85 L429.60 97.76 L430.10 97.66 L430.60 97.55 L431.10 97.43 L431.60 97.30 L432.10 97.16 L432.60 97.01 L433.10 96.86 L433.60 96.69 L434.10 96.52 L434.60 96.35 L435.10 96.17 L435.60 95.98 L436.10 95.78 L436.60 95.58 L437.10 95.37 L437.60 95.15 L438.10 94.92 L438.60 94.68 L439.10 94.43 L439.60 94.17 L440.10 93.90 L440.60 93.62 L441.10 93.33 L441.60 93.02 L442.10 92.71 L442.60 92.39 L443.10 92.06 L443.60 91.72 L444.10 91.37 L444.60 91.01 L445.10 90.65 L445.60 90.27 L446.10 89.90 L446.60 89.52 L447.10 89.15 L447.60 88.78 L448.10 88.42 L448.60 88.08 L449.10 87.75 L449.60 87.45 L450.10 87.16 L450.60 86.91 L451.10 86.68 L451.60 86.47 L452.10 86.30 L452.60 86.14 L453.10 86.01 L453.60 85.91 L454.10 85.82 L454.60 85.77 L455.10 85.73 L455.60 85.71 L456.10 85.72 L456.60 85.75 L457.10 85.80 L457.60 85.86 L458.10 85.95 L458.60 86.05 L459.10 86.16 L459.60 86.29 L460.10 86.43 L460.60 86.59 L461.10 86.75 L461.60 86.93 L462.10 87.11 L462.60 87.30 L463.10 87.49 L463.60 87.70 L464.10 87.90 L464.60 88.11 L465.10 88.33 L465.60 88.55 L466.10 88.76 L466.60 88.98 L467.10 89.20 L467.60 89.42 L468.10 89.63 L468.60 89.84 L469.10 90.04 L469.60 90.23 L470.10 90.42 L470.60 90.59 L471.10 90.75 L471.60 90.90 L472.10 91.04 L472.60 91.17 L473.10 91.28 L473.60 91.38 L474.10 91.48 L474.60 91.56 L475.10 91.63 L475.60 91.68 L476.10 91.73 L476.60 91.77 L477.10 91.79 L477.60 91.78 L478.10 91.75 L478.60 91.67 L479.10 91.56 L479.60 91.39 L480.10 91.17 L480.60 90.90 L481.10 90.57 L481.60 90.21 L482.10 89.81 L482.60 89.40 L483.10 88.98 L483.60 88.55 L484.10 88.14 L484.60 87.74 L485.10 87.36 L485.60 87.01 L486.10 86.68 L486.60 86.38 L487.10 86.11 L487.60 85.88 L488.10 85.68 L488.60 85.53 L489.10 85.43 L489.60 85.39 L490.10 85.43 L490.60 85.56 L491.10 85.75 L491.60 86.01 L492.10 86.31 L492.60 86.66 L493.10 87.03 L493.60 87.41 L494.10 87.80 L494.60 88.18 L495.10 88.56 L495.60 88.94 L496.10 89.31 L496.60 89.68 L497.10 90.06 L497.60 90.43 L498.10 90.80 L498.60 91.17 L499.10 91.54 L499.60 91.92 L500.10 92.30 L500.60 92.67 L501.10 93.05 L501.60 93.42 L502.10 93.80 L502.60 94.18 L503.10 94.55 L503.60 94.93 L504.10 95.30 L504.60 95.68 L505.10 96.05 L505.60 96.43 L506.10 96.80 L506.60 97.18 L507.10 97.54 L507.60 97.90 L508.10 98.23 L508.60 98.54 L509.10 98.82 L509.60 99.07 L510.10 99.27 L510.60 99.42 L511.10 99.52 L511.60 99.56 L512.10 99.52 L512.60 99.39 L513.10 99.18 L513.60 98.88 L514.10 98.50 L514.60 98.07 L515.10 97.60 L515.60 97.11 L516.10 96.63 L516.60 96.18 L517.10 95.79 L517.60 95.47 L518.10 95.28 L518.60 95.23 L519.10 95.34 L519.60 95.59 L520.10 95.93 L520.60 96.36 L521.10 96.83 L521.60 97.32 L522.10 97.82 L522.60 98.33 L523.10 98.84 L523.60 99.34 L524.10 99.83 L524.60 100.30 L525.10 100.76 L525.60 101.20 L526.10 101.63 L526.60 102.06 L527.10 102.48 L527.60 102.90 L528.10 103.32 L528.60 103.75 L529.10 104.19 L529.60 104.67 L530.10 105.18 L530.60 105.74 L531.10 106.37 L531.60 107.06 L532.10 107.81 L532.60 108.58 L533.10 109.36 L533.60 110.14 L534.10 110.89 L534.60 111.61 L535.10 112.31 L535.60 113.00 L536.10 113.69 L536.60 114.40 L537.10 115.13 L537.60 115.90 L538.10 116.68 L538.60 117.48 L539.10 118.29 L539.60 119.11" stroke="#fbaa00"/>
<path d="M108.10 273.17 L108.60 273.12 L109.10 273.07 L109.60 273.02 L110.10 272.96 L110.60 272.91 L111.10 272.85 L111.60 272.80 L112.10 272.74 L112.60 272.69 L113.10 272.63 L113.60 272.58 L114.10 272.52 L114.60 272.47 L115.10 272.41 L115.60 272.35 L116.10 272.29 L116.60 272.23 L117.10 272.18 L117.60 272.12 L118.10 272.06 L118.60 272.00 L119.10 271.94 L119.60 271.87 L120.10 271.81 L120.60 271.75 L121.10 271.69 L121.60 271.63 L122.10 271.56 L122.60 271.50 L123.10 271.44 L123.60 271.37 L124.10 271.31 L124.60 271.24 L125.10 271.17 L125.60 271.11 L126.10 271.04 L126.60 270.97 L127.10 270.90 L127.60 270.83 L128.10 270.77 L128.60 270.70 L129.10 270.63 L129.60 270.55 L130.10 270.48 L130.60 270.41 L131.10 270.34 L131.60 270.26 L132.10 270.19 L132.60 270.12 L133.10 270.04 L133.60 269.97 L134.10 269.89 L134.60 269.81 L135.10 269.74 L135.60 269.66 L136.10 269.58 L136.60 269.50 L137.10 269.42 L137.60 269.34 L138.10 269.26 L138.60 269.18 L139.10 269.09 L139.60 269.01 L140.10 268.93 L140.60 268.84 L141.10 268.76 L141.60 268.67 L142.10 268.58 L142.60 268.50 L143.10 268.41 L143.60 268.32 L144.10 268.23 L144.60 268.14 L145.10 268.05 L145.60 267.95 L146.10 267.86 L146.60 267.77 L147.10 267.67 L147.60 267.58 L148.10 267.48 L148.60 267.39 L149.10 267.29 L149.60 267.19 L150.10 267.09 L150.60 266.99 L151.10 266.89 L151.60 266.79 L152.10 266.69 L152.60 266.58 L153.10 266.48 L153.60 266.37 L154.10 266.27 L154.60 266.16 L155.10 266.05 L155.60 265.95 L156.10 265.84 L156.60 265.73 L157.10 265.61 L157.60 265.50 L158.10 265.39 L158.60 265.27 L159.10 265.16 L159.60 265.04 L160.10 264.93 L160.60 264.81 L161.10 264.69 L161.60 264.57 L162.10 264.45 L162.60 264.33 L163.10 264.20 L163.60 264.08 L164.10 263.95 L164.60 263.83 L165.10 263.70 L165.60 263.57 L166.10 263.44 L166.60 263.31 L167.10 263.18 L167.60 263.05 L168.10 262.91 L168.60 262.78 L169.10 262.64 L169.60 262.51 L170.10 262.37 L170.60 262.23 L171.10 262.09 L171.60 261.95 L172.10 261.81 L172.60 261.66 L173.10 261.52 L173.60 261.37 L174.10 261.22 L174.60 261.08 L175.10 260.93 L175.60 260.78 L176.10 260.62 L176.60 260.47 L177.10 260.32 L177.60 260.16 L178.10 260.00 L178.60 259.85 L179.10 259.69 L179.60 259.53 L180.10 259.36 L180.60 259.20 L181.10 259.04 L181.60 258.87 L182.10 258.71 L182.60 258.54 L183.10 258.37 L183.60 258.20 L184.10 258.03 L184.60 257.85 L185.10 257.68 L185.60 257.50 L186.10 257.32 L186.60 257.15 L187.10 256.97 L187.60 256.79 L188.10 256.60 L188.60 256.42 L189.10 256.23 L189.60 256.05 L190.10 255.86 L190.60 255.67 L191.10 255.48 L191.60 255.29 L192.10 255.09 L192.60 254.90 L193.10 254.70 L193.60 254.51 L194.10 254.31 L194.60 254.11 L195.10 253.91 L195.60 253.70 L196.10 253.50 L196.60 253.29 L197.10 253.09 L197.60 252.88 L198.10 252.67 L198.60 252.46 L199.10 252.24 L199.60 252.03 L200.10 251.81 L200.60 251.60 L201.10 251.38 L201.60 251.16 L202.10 250.94 L202.60 250.71 L203.10 250.49 L203.60 250.27 L204.10 250.04 L204.60 249.81 L205.10 249.58 L205.60 249.35 L206.10 249.12 L206.60 248.88 L207.10 248.65 L207.60 248.41 L208.10 248.17 L208.60 247.93 L209.10 247.69 L209.60 247.45 L210.10 247.20 L210.60 246.96 L211.10 246.71 L211.60 246.46 L212.10 246.21 L212.60 245.96 L213.10 245.71 L213.60 245.45 L214.10 245.20 L214.60 244.94 L215.10 244.68 L215.60 244.42 L216.10 244.16 L216.60 243.90 L217.10 243.64 L217.60 243.37 L218.10 243.10 L218.60 242.83 L219.10 242.56 L219.60 242.29 L220.10 242.02 L220.60 241.75 L221.10 241.47 L221.60 241.20 L222.10 240.92 L222.60 240.64 L223.10 240.36 L223.60 240.07 L224.10 239.79 L224.60 239.51 L225.10 239.22 L225.60 238.93 L226.10 238.64 L226.60 238.35 L227.10 238.06 L227.60 237.77 L228.10 237.47 L228.60 237.18 L229.10 236.88 L229.60 236.58 L230.10 236.28 L230.60 235.98 L231.10 235.68 L231.60 235.38 L232.10 235.07 L232.60 234.76 L233.10 234.46 L233.60 234.15 L234.10 233.83 L234.60 233.52 L235.10 233.21 L235.60 232.89 L236.10 232.57 L236.60 232.26 L237.10 231.94 L237.60 231.61 L238.10 231.29 L238.60 230.97 L239.10 230.64 L239.60 230.32 L240.10 229.99 L240.60 229.66 L241.10 229.33 L241.60 229.00 L242.10 228.66 L242.60 228.33 L243.10 227.99 L243.60 227.66 L244.10 227.32 L244.60 226.98 L245.10 226.64 L245.60 226.29 L246.10 225.95 L246.60 225.60 L247.10 225.25 L247.60 224.90 L248.10 224.55 L248.60 224.20 L249.10 223.84 L249.60 223.48 L250.10 223.12 L250.60 222.76 L251.10 222.40 L251.60 222.03 L252.10 221.67 L252.60 221.30 L253.10 220.93 L253.60 220.56 L254.10 220.19 L254.60 219.82 L255.10 219.44 L255.60 219.06 L256.10 218.68 L256.60 218.29 L257.10 217.91 L257.60 217.51 L258.10 217.12 L258.60 216.72 L259.10 216.32 L259.60 215.92 L260.10 215.52 L260.60 215.12 L261.10 214.71 L261.60 214.31 L262.10 213.90 L262.60 213.50 L263.10 213.10 L263.60 212.69 L264.10 212.29 L264.60 211.90 L265.10 211.50 L265.60 211.10 L266.10 210.71 L266.60 210.31 L267.10 209.91 L267.60 209.51 L268.10 209.11 L268.60 208.71 L269.10 208.31 L269.60 207.91 L270.10 207.51 L270.60 207.11 L271.10 206.71 L271.60 206.31 L272.10 205.91 L272.60 205.51 L273.10 205.11 L273.60 204.71 L274.10 204.31 L274.60 203.92 L275.10 203.53 L275.60 203.13 L276.10 202.74 L276.60 202.34 L277.10 201.95 L277.60 201.55 L278.10 201.15 L278.60 200.75 L279.10 200.36 L279.60 199.96 L280.10 199.56 L280.60 199.16 L281.10 198.76 L281.60 198.36 L282.10 197.95 L282.60 197.55 L283.10 197.15 L283.60 196.74 L284.10 196.34 L284.60 195.93 L285.10 195.53 L285.60 195.12 L286.10 194.72 L286.60 194.31 L287.10 193.90 L287.60 193.49 L288.10 193.08 L288.60 192.68 L289.10 192.27 L289.60 191.86 L290.10 191.45 L290.60 191.03 L291.10 190.62 L291.60 190.21 L292.10 189.80 L292.60 189.39 L293.10 188.98 L293.60 188.56 L294.10 188.15 L294.60 187.74 L295.10 187.33 L295.60 186.91 L296.10 186.50 L296.60 186.09 L297.10 185.67 L297.60 185.26 L298.10 184.84 L298.60 184.43 L299.10 184.01 L299.60 183.60 L300.10 183.18 L300.60 182.76 L301.10 182.34 L301.60 181.92 L302.10 181.50 L302.60 181.09 L303.10 180.66 L303.60 180.24 L304.10 179.82 L304.60 179.40 L305.10 178.98 L305.60 178.56 L306.10 178.14 L306.60 177.72 L307.10 177.30 L307.60 176.88 L308.10 176.46 L308.60 176.04 L309.10 175.63 L309.60 175.21 L310.10 174.79 L310.60 174.37 L311.10 173.96 L311.60 173.54 L312.10 173.12 L312.60 172.70 L313.10 172.29 L313.60 171.87 L314.10 171.46 L314.60 171.04 L315.10 170.62 L315.60 170.21 L316.10 169.79 L316.60 169.38 L317.10 168.96 L317.60 168.55 L318.10 168.13 L318.60 167.71 L319.10 167.30 L319.60 166.88 L320.10 166.47 L320.60 166.05 L321.10 165.64 L321.60 165.23 L322.10 164.81 L322.60 164.40 L323.10 163.99 L323.60 163.58 L324.10 163.17 L324.60 162.76 L325.10 162.35 L325.60 161.94 L326.10 161.53 L326.60 161.13 L327.10 160.72 L327.60 160.31 L328.10 159.91 L328.60 159.50 L329.10 159.10 L329.60 158.69 L330.10 158.29 L330.60 157.88 L331.10 157.48 L331.60 157.08 L332.10 156.68 L332.60 156.27 L333.10 155.87 L333.60 155.47 L334.10 155.07 L334.60 154.67 L335.10 154.26 L335.60 153.86 L336.10 153.46 L336.60 153.07 L337.10 152.67 L337.60 152.27 L338.10 151.88 L338.60 151.49 L339.10 151.09 L339.60 150.70 L340.10 150.31 L340.60 149.92 L341.10 149.53 L341.60 149.14 L342.10 148.76 L342.60 148.37 L343.10 147.98 L343.60 147.60 L344.10 147.22 L344.60 146.83 L345.10 146.45 L345.60 146.07 L346.10 145.69 L346.60 145.31 L347.10 144.94 L347.60 144.56 L348.10 144.19 L348.60 143.82 L349.10 143.45 L349.60 143.08 L350.10 142.71 L350.60 142.34 L351.10 141.98 L351.60 141.61 L352.10 141.25 L352.60 140.89 L353.10 140.53 L353.60 140.17 L354.10 139.81 L354.60 139.45 L355.10 139.09 L355.60 138.73 L356.10 138.38 L356.60 138.04 L357.10 137.69 L357.60 137.35 L358.10 137.01 L358.60 136.67 L359.10 136.33 L359.60 135.99 L360.10 135.65 L360.60 135.31 L361.10 134.96 L361.60 134.62 L362.10 134.26 L362.60 133.91 L363.10 133.56 L363.60 133.21 L364.10 132.86 L364.60 132.51 L365.10 132.16 L365.60 131.81 L366.10 131.46 L366.60 131.10 L367.10 130.74 L367.60 130.37 L368.10 130.00 L368.60 129.62 L369.10 129.23 L369.60 128.84 L370.10 128.44 L370.60 128.03 L371.10 127.62 L371.60 127.22 L372.10 126.81 L372.60 126.40 L373.10 125.99 L373.60 125.58 L374.10 125.16 L374.60 124.75 L375.10 124.33 L375.60 123.91 L376.10 123.49 L376.60 123.07 L377.10 122.64 L377.60 122.21 L378.10 121.78 L378.60 121.35 L379.10 120.91 L379.60 120.47 L380.10 120.03 L380.60 119.58 L381.10 119.12 L381.60 118.66 L382.10 118.19 L382.60 117.73 L383.10 117.25 L383.60 116.78 L384.10 116.30 L384.60 115.82 L385.10 115.34 L385.60 114.86 L386.10 114.38 L386.60 113.90 L387.10 113.42 L387.60 112.94 L388.10 112.47 L388.60 112.00 L389.10 111.53 L389.60 111.06 L390.10 110.60 L390.60 110.15 L391.10 109.69 L391.60 109.23 L392.10 108.78 L392.60 108.32 L393.10 107.86 L393.60 107.41 L394.10 106.95 L394.60 106.50 L395.10 106.05 L395.60 105.59 L396.10 105.14 L396.60 104.69 L397.10 104.25 L397.60 103.81 L398.10 103.39 L398.60 102.98 L399.10 102.59 L399.60 102.20 L400.10 101.83 L400.60 101.46 L401.10 101.09 L401.60 100.73 L402.10 100.39 L402.60 100.07 L403.10 99.77 L403.60 99.49 L404.10 99.23 L404.60 98.99 L405.10 98.76 L405.60 98.54 L406.10 98.35 L406.60 98.17 L407.10 98.02 L407.60 97.90 L408.10 97.80 L408.60 97.71 L409.10 97.64 L409.60 97.59 L410.10 97.55 L410.60 97.53 L411.10 97.51 L411.60 97.50 L412.10 97.51 L412.60 97.52 L413.10 97.53 L413.60 97.55 L414.10 97.57 L414.60 97.60 L415.10 97.63 L415.60 97.66 L416.10 97.70 L416.60 97.73 L417.10 97.77 L417.60 97.80 L418.10 97.84 L418.60 97.87 L419.10 97.91 L419.60 97.94 L420.10 97.97 L420.60 98.00 L421.10 98.02 L421.60 98.05 L422.10 98.07 L422.60 98.09 L423.10 98.11 L423.60 98.12 L424.10 98.13 L424.60 98.14 L425.10 98.14 L425.60 98.13 L426.10 98.12 L426.60 98.10 L427.10 98.07 L427.60 98.03 L428.10 97.97 L428.60 97.91 L429.10 97.83 L429.60 97.75 L430.10 97.65 L430.60 97.54 L431.10 97.41 L431.60 97.28 L432.10 97.14 L432.60 97.00 L433.10 96.84 L433.60 96.68 L434.10 96.51 L434.60 96.33 L435.10 96.15 L435.60 95.96 L436.10 95.77 L436.60 95.57 L437.10 95.35 L437.60 95.13 L438.10 94.90 L438.60 94.67 L439.10 94.42 L439.60 94.16 L440.10 93.89 L440.60 93.60 L441.10 93.31 L441.60 93.01 L442.10 92.70 L442.60 92.38 L443.10 92.05 L443.60 91.71 L444.10 91.36 L444.60 91.00 L445.10 90.63 L445.60 90.26 L446.10 89.89 L446.60 89.51 L447.10 89.14 L447.60 88.77 L448.10 88.41 L448.60 88.07 L449.10 87.74 L449.60 87.44 L450.10 87.15 L450.60 86.90 L451.10 86.67 L451.60 86.46 L452.10 86.29 L452.60 86.13 L453.10 86.00 L453.60 85.90 L454.10 85.81 L454.60 85.75 L455.10 85.72 L455.60 85.70 L456.10 85.71 L456.60 85.74 L457.10 85.79 L457.60 85.85 L458.10 85.94 L458.60 86.04 L459.10 86.15 L459.60 86.28 L460.10 86.42 L460.60 86.58 L461.10 86.74 L461.60 86.91 L462.10 87.10 L462.60 87.29 L463.10 87.48 L463.60 87.68 L464.10 87.89 L464.60 88.10 L465.10 88.32 L465.60 88.53 L466.10 88.75 L466.60 88.97 L467.10 89.19 L467.60 89.40 L468.10 89.62 L468.60 89.82 L469.10 90.03 L469.60 90.22 L470.10 90.40 L470.60 90.58 L471.10 90.74 L471.60 90.89 L472.10 91.03 L472.60 91.16 L473.10 91.27 L473.60 91.37 L474.10 91.46 L474.60 91.54 L475.10 91.61 L475.60 91.67 L476.10 91.72 L476.60 91.75 L477.10 91.77 L477.60 91.77 L478.10 91.73 L478.60 91.66 L479.10 91.54 L479.60 91.38 L480.10 91.16 L480.60 90.88 L481.10 90.56 L481.60 90.20 L482.10 89.80 L482.60 89.39 L483.10 88.97 L483.60 88.54 L484.10 88.13 L484.60 87.73 L485.10 87.35 L485.60 87.00 L486.10 86.67 L486.60 86.37 L487.10 86.10 L487.60 85.87 L488.10 85.67 L488.60 85.52 L489.10 85.42 L489.60 85.38 L490.10 85.42 L490.60 85.55 L491.10 85.74 L491.60 86.00 L492.10 86.30 L492.60 86.64 L493.10 87.01 L493.60 87.40 L494.10 87.79 L494.60 88.17 L495.10 88.55 L495.60 88.93 L496.10 89.30 L496.60 89.67 L497.10 90.04 L497.60 90.41 L498.10 90.78 L498.60 91.16 L499.10 91.53 L499.60 91.91 L500.10 92.28 L500.60 92.66 L501.10 93.03 L501.60 93.41 L502.10 93.79 L502.60 94.16 L503.10 94.54 L503.60 94.91 L504.10 95.29 L504.60 95.66 L505.10 96.04 L505.60 96.41 L506.10 96.79 L506.60 97.16 L507.10 97.53 L507.60 97.88 L508.10 98.21 L508.60 98.52 L509.10 98.80 L509.60 99.05 L510.10 99.25 L510.60 99.41 L511.10 99.50 L511.60 99.54 L512.10 99.50 L512.60 99.38 L513.10 99.16 L513.60 98.86 L514.10 98.48 L514.60 98.05 L515.10 97.58 L515.60 97.10 L516.10 96.62 L516.60 96.17 L517.10 95.77 L517.60 95.46 L518.10 95.26 L518.60 95.22 L519.10 95.32 L519.60 95.57 L520.10 95.92 L520.60 96.34 L521.10 96.81 L521.60 97.30 L522.10 97.80 L522.60 98.31 L523.10 98.82 L523.60 99.32 L524.10 99.81 L524.60 100.28 L525.10 100.74 L525.60 101.18 L526.10 101.61 L526.60 102.04 L527.10 102.46 L527.60 102.88 L528.10 103.30 L528.60 103.73 L529.10 104.17 L529.60 104.64 L530.10 105.16 L530.60 105.72 L531.10 106.35 L531.60 107.04 L532.10 107.78 L532.60 108.55 L533.10 109.34 L533.60 110.12 L534.10 110.87 L534.60 111.59 L535.10 112.28 L535.60 112.97 L536.10 113.66 L536.60 114.37 L537.10 115.10 L537.60 115.86 L538.10 116.65 L538.60 117.44 L539.10 118.25 L539.60 119.07" stroke="#861888"/>
<path d="M108.10 268.31 L108.60 268.26 L109.10 268.20 L109.60 268.15 L110.10 268.10 L110.60 268.05 L111.10 267.99 L111.60 267.94 L112.10 267.89 L112.60 267.83 L113.10 267.78 L113.60 267.72 L114.10 267.67 L114.60 267.61 L115.10 267.56 L115.60 267.50 L116.10 267.45 L116.60 267.39 L117.10 267.33 L117.60 267.28 L118.10 267.22 L118.60 267.16 L119.10 267.10 L119.60 267.04 L120.10 266.98 L120.60 266.92 L121.10 266.86 L121.60 266.80 L122.10 266.74 L122.60 266.68 L123.10 266.62 L123.60 266.56 L124.10 266.49 L124.60 266.43 L125.10 266.37 L125.60 266.30 L126.10 266.24 L126.60 266.17 L127.10 266.11 L127.60 266.04 L128.10 265.98 L128.60 265.91 L129.10 265.84 L129.60 265.78 L130.10 265.71 L130.60 265.64 L131.10 265.57 L131.60 265.50 L132.10 265.43 L132.60 265.36 L133.10 265.29 L133.60 265.22 L134.10 265.15 L134.60 265.07 L135.10 265.00 L135.60 264.93 L136.10 264.85 L136.60 264.78 L137.10 264.70 L137.60 264.63 L138.10 264.55 L138.60 264.47 L139.10 264.40 L139.60 264.32 L140.10 264.24 L140.60 264.16 L141.10 264.08 L141.60 264.00 L142.10 263.92 L142.60 263.84 L143.10 263.75 L143.60 263.67 L144.10 263.59 L144.60 263.50 L145.10 263.42 L145.60 263.33 L146.10 263.25 L146.60 263.16 L147.10 263.07 L147.60 262.98 L148.10 262.89 L148.60 262.80 L149.10 262.71 L149.60 262.62 L150.10 262.53 L150.60 262.44 L151.10 262.34 L151.60 262.25 L152.10 262.15 L152.60 262.06 L153.10 261.96 L153.60 261.87 L154.10 261.77 L154.60 261.67 L155.10 261.57 L155.60 261.47 L156.10 261.37 L156.60 261.27 L157.10 261.16 L157.60 261.06 L158.10 260.95 L158.60 260.85 L159.10 260.74 L159.60 260.64 L160.10 260.53 L160.60 260.42 L161.10 260.31 L161.60 260.20 L162.10 260.09 L162.60 259.98 L163.10 259.86 L163.60 259.75 L164.10 259.63 L164.60 259.52 L165.10 259.40 L165.60 259.28 L166.10 259.16 L166.60 259.05 L167.10 258.92 L167.60 258.80 L168.10 258.68 L168.60 258.56 L169.10 258.43 L169.60 258.31 L170.10 258.18 L170.60 258.05 L171.10 257.92 L171.60 257.79 L172.10 257.66 L172.60 257.53 L173.10 257.40 L173.60 257.27 L174.10 257.13 L174.60 256.99 L175.10 256.86 L175.60 256.72 L176.10 256.58 L176.60 256.44 L177.10 256.30 L177.60 256.16 L178.10 256.01 L178.60 255.87 L179.10 255.72 L179.60 255.58 L180.10 255.43 L180.60 255.28 L181.10 255.13 L181.60 254.98 L182.10 254.82 L182.60 254.67 L183.10 254.51 L183.60 254.36 L184.10 254.20 L184.60 254.04 L185.10 253.88 L185.60 253.72 L186.10 253.56 L186.60 253.39 L187.10 253.23 L187.60 253.06 L188.10 252.90 L188.60 252.73 L189.10 252.56 L189.60 252.39 L190.10 252.22 L190.60 252.04 L191.10 251.87 L191.60 251.69 L192.10 251.51 L192.60 251.33 L193.10 251.15 L193.60 250.97 L194.10 250.79 L194.60 250.61 L195.10 250.42 L195.60 250.24 L196.10 250.05 L196.60 249.86 L197.10 249.67 L197.60 249.48 L198.10 249.28 L198.60 249.09 L199.10 248.89 L199.60 248.69 L200.10 248.50 L200.60 248.30 L201.10 248.09 L201.60 247.89 L202.10 247.69 L202.60 247.48 L203.10 247.28 L203.60 247.07 L204.10 246.86 L204.60 246.65 L205.10 246.43 L205.60 246.22 L206.10 246.01 L206.60 245.79 L207.10 245.57 L207.60 245.35 L208.10 245.13 L208.60 244.91 L209.10 244.69 L209.60 244.46 L210.10 244.23 L210.60 244.01 L211.10 243.78 L211.60 243.55 L212.10 243.32 L212.60 243.08 L213.10 242.85 L213.60 242.61 L214.10 242.37 L214.60 242.13 L215.10 241.89 L215.60 241.65 L216.10 241.41 L216.60 241.16 L217.10 240.92 L217.60 240.67 L218.10 240.42 L218.60 240.17 L219.10 239.92 L219.60 239.67 L220.10 239.41 L220.60 239.16 L221.10 238.90 L221.60 238.64 L222.10 238.38 L222.60 238.12 L223.10 237.86 L223.60 237.59 L224.10 237.33 L224.60 237.06 L225.10 236.79 L225.60 236.52 L226.10 236.25 L226.60 235.98 L227.10 235.70 L227.60 235.43 L228.10 235.15 L228.60 234.87 L229.10 234.60 L229.60 234.31 L230.10 234.03 L230.60 233.75 L231.10 233.46 L231.60 233.18 L232.10 232.89 L232.60 232.60 L233.10 232.31 L233.60 232.02 L234.10 231.72 L234.60 231.43 L235.10 231.13 L235.60 230.83 L236.10 230.53 L236.60 230.23 L237.10 229.93 L237.60 229.62 L238.10 229.32 L238.60 229.01 L239.10 228.70 L239.60 228.39 L240.10 228.08 L240.60 227.77 L241.10 227.45 L241.60 227.14 L242.10 226.82 L242.60 226.50 L243.10 226.18 L243.60 225.86 L244.10 225.54 L244.60 225.22 L245.10 224.89 L245.60 224.56 L246.10 224.24 L246.60 223.90 L247.10 223.57 L247.60 223.24 L248.10 222.90 L248.60 222.56 L249.10 222.22 L249.60 221.88 L250.10 221.53 L250.60 221.19 L251.10 220.84 L251.60 220.49 L252.10 220.14 L252.60 219.79 L253.10 219.43 L253.60 219.08 L254.10 218.72 L254.60 218.36 L255.10 218.00 L255.60 217.64 L256.10 217.27 L256.60 216.90 L257.10 216.53 L257.60 216.15 L258.10 215.77 L258.60 215.39 L259.10 215.00 L259.60 214.61 L260.10 214.23 L260.60 213.84 L261.10 213.45 L261.60 213.06 L262.10 212.67 L262.60 212.28 L263.10 211.89 L263.60 211.50 L264.10 211.11 L264.60 210.73 L265.10 210.34 L265.60 209.96 L266.10 209.57 L266.60 209.19 L267.10 208.80 L267.60 208.41 L268.10 208.03 L268.60 207.64 L269.10 207.25 L269.60 206.86 L270.10 206.47 L270.60 206.08 L271.10 205.69 L271.60 205.30 L272.10 204.91 L272.60 204.53 L273.10 204.14 L273.60 203.75 L274.10 203.37 L274.60 202.98 L275.10 202.60 L275.60 202.21 L276.10 201.83 L276.60 201.44 L277.10 201.06 L277.60 200.67 L278.10 200.28 L278.60 199.89 L279.10 199.51 L279.60 199.12 L280.10 198.73 L280.60 198.33 L281.10 197.94 L281.60 197.55 L282.10 197.16 L282.60 196.76 L283.10 196.37 L283.60 195.97 L284.10 195.58 L284.60 195.18 L285.10 194.78 L285.60 194.39 L286.10 193.99 L286.60 193.59 L287.10 193.19 L287.60 192.79 L288.10 192.39 L288.60 191.99 L289.10 191.59 L289.60 191.18 L290.10 190.78 L290.60 190.38 L291.10 189.97 L291.60 189.57 L292.10 189.17 L292.60 188.76 L293.10 188.36 L293.60 187.95 L294.10 187.55 L294.60 187.14 L295.10 186.73 L295.60 186.33 L296.10 185.92 L296.60 185.51 L297.10 185.11 L297.60 184.70 L298.10 184.29 L298.60 183.88 L299.10 183.47 L299.60 183.07 L300.10 182.66 L300.60 182.25 L301.10 181.84 L301.60 181.43 L302.10 181.02 L302.60 180.60 L303.10 180.19 L303.60 179.78 L304.10 179.37 L304.60 178.96 L305.10 178.55 L305.60 178.13 L306.10 177.72 L306.60 177.31 L307.10 176.90 L307.60 176.48 L308.10 176.07 L308.60 175.66 L309.10 175.25 L309.60 174.84 L310.10 174.43 L310.60 174.02 L311.10 173.61 L311.60 173.20 L312.10 172.79 L312.60 172.38 L313.10 171.97 L313.60 171.56 L314.10 171.15 L314.60 170.74 L315.10 170.33 L315.60 169.92 L316.10 169.51 L316.60 169.10 L317.10 168.69 L317.60 168.28 L318.10 167.87 L318.60 167.46 L319.10 167.05 L319.60 166.64 L320.10 166.23 L320.60 165.82 L321.10 165.41 L321.60 165.00 L322.10 164.59 L322.60 164.18 L323.10 163.78 L323.60 163.37 L324.10 162.96 L324.60 162.56 L325.10 162.15 L325.60 161.75 L326.10 161.35 L326.60 160.94 L327.10 160.54 L327.60 160.14 L328.10 159.74 L328.60 159.33 L329.10 158.93 L329.60 158.53 L330.10 158.13 L330.60 157.73 L331.10 157.33 L331.60 156.93 L332.10 156.53 L332.60 156.13 L333.10 155.73 L333.60 155.33 L334.10 154.94 L334.60 154.54 L335.10 154.14 L335.60 153.74 L336.10 153.35 L336.60 152.95 L337.10 152.56 L337.60 152.16 L338.10 151.77 L338.60 151.38 L339.10 150.99 L339.60 150.60 L340.10 150.21 L340.60 149.82 L341.10 149.44 L341.60 149.05 L342.10 148.67 L342.60 148.28 L343.10 147.90 L343.60 147.52 L344.10 147.14 L344.60 146.76 L345.10 146.38 L345.60 146.00 L346.10 145.62 L346.60 145.24 L347.10 144.87 L347.60 144.50 L348.10 144.13 L348.60 143.76 L349.10 143.39 L349.60 143.02 L350.10 142.65 L350.60 142.29 L351.10 141.92 L351.60 141.56 L352.10 141.20 L352.60 140.84 L353.10 140.48 L353.60 140.12 L354.10 139.76 L354.60 139.40 L355.10 139.05 L355.60 138.69 L356.10 138.35 L356.60 138.00 L357.10 137.66 L357.60 137.32 L358.10 136.98 L358.60 136.64 L359.10 136.30 L359.60 135.96 L360.10 135.62 L360.60 135.28 L361.10 134.94 L361.60 134.59 L362.10 134.24 L362.60 133.88 L363.10 133.53 L363.60 133.18 L364.10 132.84 L364.60 132.49 L365.10 132.14 L365.60 131.79 L366.10 131.43 L366.60 131.07 L367.10 130.71 L367.60 130.35 L368.10 129.97 L368.60 129.59 L369.10 129.21 L369.60 128.82 L370.10 128.41 L370.60 128.01 L371.10 127.60 L371.60 127.19 L372.10 126.79 L372.60 126.38 L373.10 125.97 L373.60 125.56 L374.10 125.14 L374.60 124.73 L375.10 124.31 L375.60 123.89 L376.10 123.47 L376.60 123.05 L377.10 122.62 L377.60 122.20 L378.10 121.76 L378.60 121.33 L379.10 120.89 L379.60 120.45 L380.10 120.01 L380.60 119.56 L381.10 119.10 L381.60 118.64 L382.10 118.18 L382.60 117.71 L383.10 117.24 L383.60 116.76 L384.10 116.28 L384.60 115.80 L385.10 115.32 L385.60 114.84 L386.10 114.36 L386.60 113.88 L387.10 113.40 L387.60 112.93 L388.10 112.45 L388.60 111.98 L389.10 111.51 L389.60 111.05 L390.10 110.59 L390.60 110.13 L391.10 109.68 L391.60 109.22 L392.10 108.76 L392.60 108.31 L393.10 107.85 L393.60 107.39 L394.10 106.94 L394.60 106.49 L395.10 106.03 L395.60 105.58 L396.10 105.13 L396.60 104.68 L397.10 104.23 L397.60 103.80 L398.10 103.38 L398.60 102.97 L399.10 102.58 L399.60 102.19 L400.10 101.82 L400.60 101.45 L401.10 101.08 L401.60 100.72 L402.10 100.38 L402.60 100.06 L403.10 99.76 L403.60 99.48 L404.10 99.22 L404.60 98.98 L405.10 98.75 L405.60 98.53 L406.10 98.34 L406.60 98.16 L407.10 98.01 L407.60 97.89 L408.10 97.79 L408.60 97.70 L409.10 97.63 L409.60 97.58 L410.10 97.54 L410.60 97.52 L411.10 97.50 L411.60 97.50 L412.10 97.50 L412.60 97.51 L413.10 97.52 L413.60 97.54 L414.10 97.56 L414.60 97.59 L415.10 97.62 L415.60 97.65 L416.10 97.69 L416.60 97.72 L417.10 97.76 L417.60 97.79 L418.10 97.83 L418.60 97.86 L419.10 97.90 L419.60 97.93 L420.10 97.96 L420.60 97.99 L421.10 98.01 L421.60 98.04 L422.10 98.06 L422.60 98.08 L423.10 98.10 L423.60 98.11 L424.10 98.12 L424.60 98.13 L425.10 98.13 L425.60 98.12 L426.10 98.11 L426.60 98.09 L427.10 98.06 L427.60 98.02 L428.10 97.96 L428.60 97.90 L429.10 97.82 L429.60 97.74 L430.10 97.64 L430.60 97.53 L431.10 97.40 L431.60 97.27 L432.10 97.13 L432.60 96.99 L433.10 96.83 L433.60 96.67 L434.10 96.50 L434.60 96.32 L435.10 96.14 L435.60 95.96 L436.10 95.76 L436.60 95.56 L437.10 95.34 L437.60 95.12 L438.10 94.90 L438.60 94.66 L439.10 94.41 L439.60 94.15 L440.10 93.88 L440.60 93.59 L441.10 93.30 L441.60 93.00 L442.10 92.69 L442.60 92.37 L443.10 92.04 L443.60 91.70 L444.10 91.35 L444.60 90.99 L445.10 90.63 L445.60 90.25 L446.10 89.88 L446.60 89.50 L447.10 89.13 L447.60 88.76 L448.10 88.40 L448.60 88.06 L449.10 87.73 L449.60 87.43 L450.10 87.15 L450.60 86.89 L451.10 86.66 L451.60 86.46 L452.10 86.28 L452.60 86.12 L453.10 85.99 L453.60 85.89 L454.10 85.81 L454.60 85.75 L455.10 85.71 L455.60 85.70 L456.10 85.70 L456.60 85.73 L457.10 85.78 L457.60 85.85 L458.10 85.93 L458.60 86.03 L459.10 86.14 L459.60 86.27 L460.10 86.42 L460.60 86.57 L461.10 86.73 L461.60 86.91 L462.10 87.09 L462.60 87.28 L463.10 87.47 L463.60 87.68 L464.10 87.88 L464.60 88.09 L465.10 88.31 L465.60 88.53 L466.10 88.74 L466.60 88.96 L467.10 89.18 L467.60 89.40 L468.10 89.61 L468.60 89.82 L469.10 90.02 L469.60 90.21 L470.10 90.39 L470.60 90.57 L471.10 90.73 L471.60 90.88 L472.10 91.02 L472.60 91.15 L473.10 91.26 L473.60 91.36 L474.10 91.45 L474.60 91.53 L475.10 91.60 L475.60 91.66 L476.10 91.71 L476.60 91.74 L477.10 91.76 L477.60 91.76 L478.10 91.72 L478.60 91.65 L479.10 91.53 L479.60 91.37 L480.10 91.15 L480.60 90.88 L481.10 90.55 L481.60 90.19 L482.10 89.79 L482.60 89.38 L483.10 88.96 L483.60 88.53 L484.10 88.12 L484.60 87.72 L485.10 87.34 L485.60 86.99 L486.10 86.66 L486.60 86.36 L487.10 86.09 L487.60 85.86 L488.10 85.66 L488.60 85.51 L489.10 85.41 L489.60 85.37 L490.10 85.41 L490.60 85.54 L491.10 85.73 L491.60 85.99 L492.10 86.29 L492.60 86.64 L493.10 87.00 L493.60 87.39 L494.10 87.78 L494.60 88.16 L495.10 88.54 L495.60 88.92 L496.10 89.29 L496.60 89.66 L497.10 90.03 L497.60 90.40 L498.10 90.77 L498.60 91.15 L499.10 91.52 L499.60 91.90 L500.10 92.27 L500.60 92.65 L501.10 93.02 L501.60 93.40 L502.10 93.78 L502.60 94.15 L503.10 94.53 L503.60 94.90 L504.10 95.28 L504.60 95.65 L505.10 96.03 L505.60 96.40 L506.10 96.77 L506.60 97.15 L507.10 97.51 L507.60 97.87 L508.10 98.20 L508.60 98.51 L509.10 98.79 L509.60 99.03 L510.10 99.24 L510.60 99.39 L511.10 99.49 L511.60 99.52 L512.10 99.48 L512.60 99.36 L513.10 99.15 L513.60 98.85 L514.10 98.47 L514.60 98.04 L515.10 97.57 L515.60 97.08 L516.10 96.61 L516.60 96.15 L517.10 95.76 L517.60 95.45 L518.10 95.25 L518.60 95.20 L519.10 95.31 L519.60 95.56 L520.10 95.91 L520.60 96.33 L521.10 96.80 L521.60 97.29 L522.10 97.79 L522.60 98.30 L523.10 98.81 L523.60 99.31 L524.10 99.80 L524.60 100.27 L525.10 100.72 L525.60 101.17 L526.10 101.60 L526.60 102.02 L527.10 102.44 L527.60 102.86 L528.10 103.28 L528.60 103.71 L529.10 104.16 L529.60 104.63 L530.10 105.14 L530.60 105.70 L531.10 106.33 L531.60 107.02 L532.10 107.76 L532.60 108.53 L533.10 109.32 L533.60 110.10 L534.10 110.85 L534.60 111.57 L535.10 112.26 L535.60 112.94 L536.10 113.64 L536.60 114.34 L537.10 115.08 L537.60 115.84 L538.10 116.62 L538.60 117.42 L539.10 118.23 L539.60 119.04" stroke="#48a400"/>
</g>
<g stroke="#6e6e6e" stroke-width="1.7" fill="none">
<rect x="110.1" y="26.0" width="426.69999999999993" height="366.1" stroke-linejoin="round"/>
<line x1="208.99" y1="392.10" x2="208.99" y2="389.30"/>
<line x1="208.99" y1="26.00" x2="208.99" y2="28.80"/>
<line x1="266.83" y1="392.10" x2="266.83" y2="389.30"/>
<line x1="266.83" y1="26.00" x2="266.83" y2="28.80"/>
<line x1="307.88" y1="392.10" x2="307.88" y2="389.30"/>
<line x1="307.88" y1="26.00" x2="307.88" y2="28.80"/>
<line x1="339.71" y1="392.10" x2="339.71" y2="389.30"/>
<line x1="339.71" y1="26.00" x2="339.71" y2="28.80"/>
<line x1="365.72" y1="392.10" x2="365.72" y2="389.30"/>
<line x1="365.72" y1="26.00" x2="365.72" y2="28.80"/>
<line x1="387.71" y1="392.10" x2="387.71" y2="389.30"/>
<line x1="387.71" y1="26.00" x2="387.71" y2="28.80"/>
<line x1="406.77" y1="392.10" x2="406.77" y2="389.30"/>
<line x1="406.77" y1="26.00" x2="406.77" y2="28.80"/>
<line x1="423.57" y1="392.10" x2="423.57" y2="389.30"/>
<line x1="423.57" y1="26.00" x2="423.57" y2="28.80"/>
<line x1="438.60" y1="392.10" x2="438.60" y2="387.30"/>
<line x1="438.60" y1="26.00" x2="438.60" y2="30.80"/>
<line x1="110.10" y1="318.88" x2="112.90" y2="318.88"/>
<line x1="536.80" y1="318.88" x2="534.00" y2="318.88"/>
<line x1="110.10" y1="245.66" x2="112.90" y2="245.66"/>
<line x1="536.80" y1="245.66" x2="534.00" y2="245.66"/>
<line x1="110.10" y1="172.44" x2="112.90" y2="172.44"/>
<line x1="536.80" y1="172.44" x2="534.00" y2="172.44"/>
<line x1="110.10" y1="99.22" x2="112.90" y2="99.22"/>
<line x1="536.80" y1="99.22" x2="534.00" y2="99.22"/>
</g>
<g>
<rect x="412.9" y="160.8" width="107.5" height="94.8" fill="#fff" stroke="#666" stroke-width="1.6"/>
<g stroke-width="3" stroke-linecap="round">
<line x1="422" y1="173.40" x2="477.8" y2="173.40" stroke="#0068bb"/>
<line x1="422" y1="191.05" x2="477.8" y2="191.05" stroke="#f84a00"/>
<line x1="422" y1="208.70" x2="477.8" y2="208.70" stroke="#fbaa00"/>
<line x1="422" y1="226.35" x2="477.8" y2="226.35" stroke="#861888"/>
<line x1="422" y1="244.00" x2="477.8" y2="244.00" stroke="#48a400"/>
</g>
<text x="485" y="178.40" class="lt">0</text>
<text x="485" y="196.05" class="lt"><tspan class="pi">π</tspan>/4</text>
<text x="485" y="213.70" class="lt"><tspan class="pi">π</tspan>/2</text>
<text x="485" y="231.35" class="lt">3<tspan class="pi">π</tspan>/4</text>
<text x="485" y="249.00" class="lt"><tspan class="pi">π</tspan></text>
</g>
<text class="tl" x="65.10" y="38.10" font-size="25.0px">1<tspan dx="-1.2">0</tspan><tspan x="91.0" y="25.9" font-size="19.5px">0</tspan></text>
<rect x="66.00" y="35" width="4.93" height="4" fill="#fff"/><rect x="74.37" y="35" width="4.63" height="4" fill="#fff"/>
<text class="tl" x="58.60" y="404.90" font-size="25.0px">1<tspan dx="-1.2">0</tspan><tspan x="85.1" y="392.6" font-size="19.5px">-5</tspan></text>
<rect x="59.00" y="402" width="5.43" height="4" fill="#fff"/><rect x="67.87" y="402" width="5.13" height="4" fill="#fff"/>
<text class="tl" x="100.40" y="424.50" font-size="25.0px">1</text>
<rect x="101.00" y="421" width="5.23" height="5" fill="#fff"/><rect x="109.67" y="421" width="4.33" height="5" fill="#fff"/>
<text class="tl" x="425.40" y="424.60" font-size="25.0px">1<tspan dx="-1.1">0</tspan></text>
<rect x="426.00" y="421" width="5.23" height="5" fill="#fff"/><rect x="434.67" y="421" width="4.33" height="5" fill="#fff"/>
<text class="xl" y="457" font-size="26px"><tspan x="284">f</tspan> <tspan x="299.6" font-weight="normal" stroke="#111" stroke-width="0.35">/</tspan> <tspan x="314">G</tspan><tspan x="333.5">H</tspan><tspan x="351.5">z</tspan></text>
<g transform="translate(38.8,289.5) rotate(-90)" class="yl">
<text transform="translate(-0.3,0) scale(1.12,1)" font-size="31px" style="stroke-width:0.8px">κ</text>
<text x="17.6" y="7.3" font-size="23.5px" textLength="35.9" lengthAdjust="spacingAndGlyphs">ext</text>
<text x="79.9" y="0" font-size="30px" textLength="41.1" lengthAdjust="spacingAndGlyphs">dB</text>
<text transform="translate(125.5,6.5) scale(1.15,1.4)" font-size="30px">/</text>
<text transform="translate(139,0) scale(1.35,1)" font-size="30px">m</text>
</g>
</svg>
</body></html>
